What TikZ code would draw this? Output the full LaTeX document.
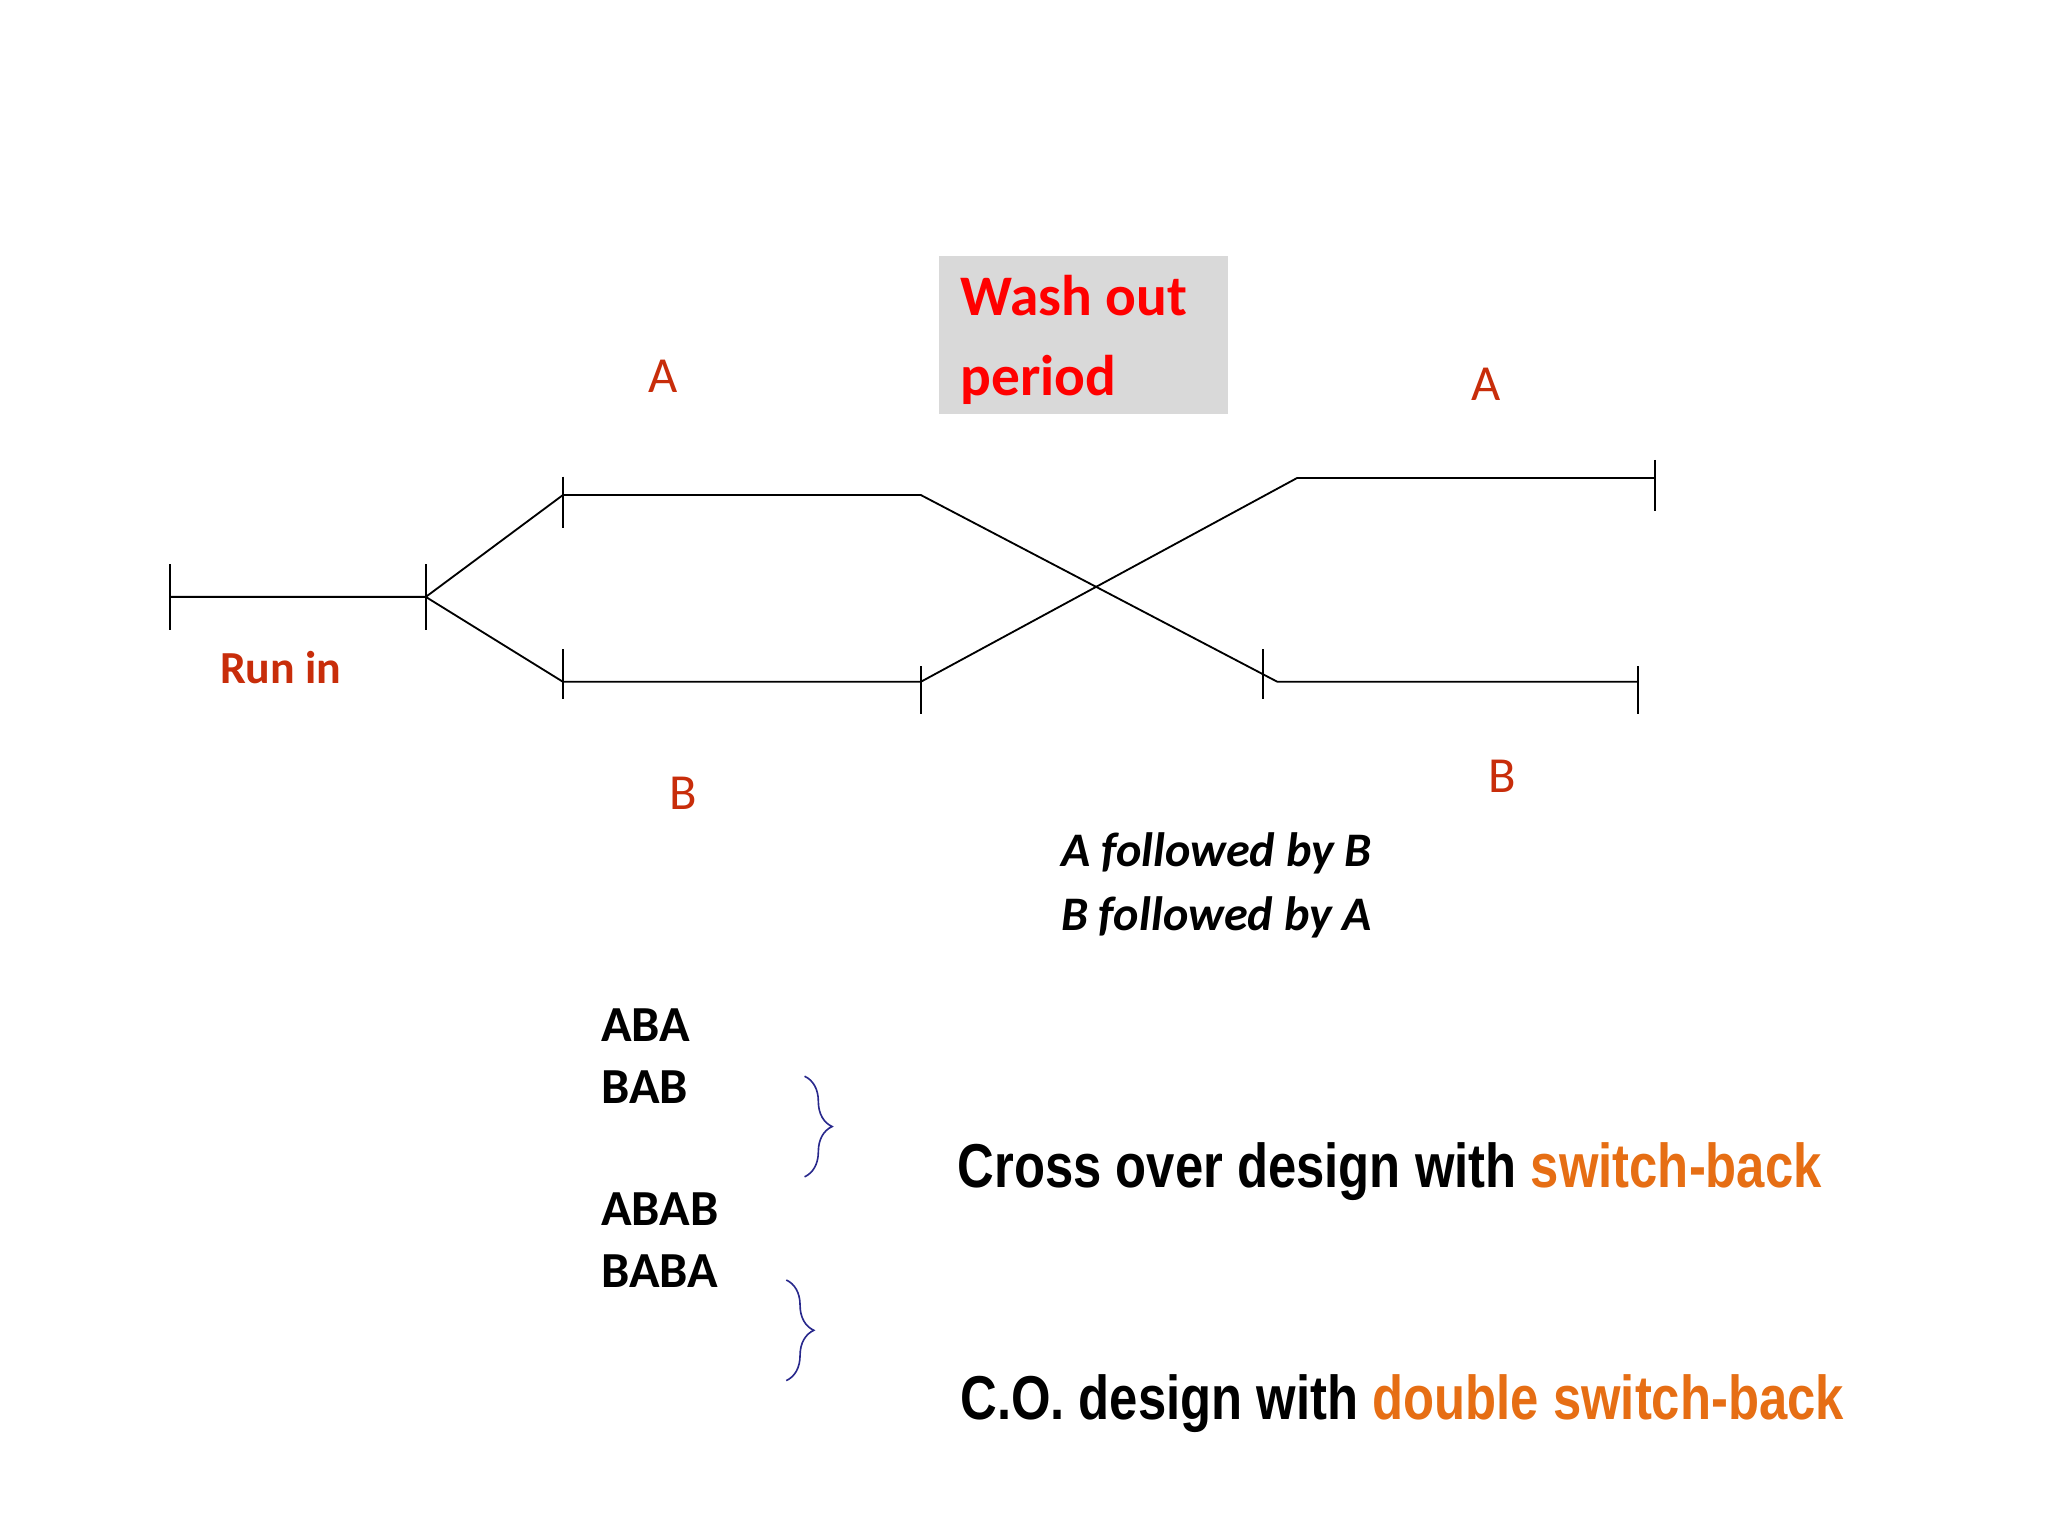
\documentclass[tikz,border=0pt]{standalone}
\usepackage{fontspec}
\setmainfont{Carlito}
\newfontfamily\narrowf{Liberation Sans}
\usetikzlibrary{decorations.pathreplacing}
\definecolor{lab}{RGB}{200,45,10}
\definecolor{org}{RGB}{230,110,20}
\definecolor{brc}{RGB}{40,40,140}
\begin{document}
\begin{tikzpicture}[x=0.02cm,y=-0.02cm,
  ln/.style={black,line width=0.8pt},
  lbl/.style={text=lab,font=\fontsize{22}{26}\selectfont,inner sep=0pt},
  seq/.style={font=\bfseries\fontsize{22}{26}\selectfont,anchor=west,inner sep=0pt},
  big/.style={font=\narrowf\bfseries\fontsize{27}{32}\selectfont,anchor=west,inner sep=0pt,xscale=0.82},
  br/.style={brc,line width=0.7pt,decorate,decoration={brace,amplitude=12pt}}]
\useasboundingbox (0,0) rectangle (1568,1176);
\fill[white] (0,0) rectangle (1568,1176);
% coordinates
\coordinate (r0) at (130,457); \coordinate (r1) at (326,457);
\coordinate (a0) at (431,379); \coordinate (a1) at (705,379);
\coordinate (b0) at (431,522); \coordinate (b1) at (705,522);
\coordinate (b2) at (978,522); \coordinate (b3) at (1254,522);
\coordinate (a2) at (993,366); \coordinate (a3) at (1267,366);
\draw[ln] (r0) -- (r1) -- (a0) -- (a1) -- (b2) -- (b3);
\draw[ln] (r1) -- (b0) -- (b1) -- (a2) -- (a3);
% ticks
\draw[ln] (130,432) -- (130,482);
\draw[ln] (326,432) -- (326,482);
\draw[ln] (431,365) -- (431,404);
\draw[ln] (431,497) -- (431,535);
\draw[ln] (705,510) -- (705,547);
\draw[ln] (967,497) -- (967,535);
\draw[ln] (1254,510) -- (1254,547);
\draw[ln] (1267,352) -- (1267,391);
% labels
\node[lbl] (la1) at (508,288) {A};
\node[lbl] (la2) at (1138,294) {A};
\node[lbl] (lb1) at (523,607) {B};
\node[lbl] (lb2) at (1150,594) {B};
\node[text=lab,font=\bfseries\fontsize{20}{24}\selectfont,inner sep=0pt] (run) at (215,511) {Run in};
\fill[black!15] (719,196) rectangle (940,317);
\node[anchor=north west,text=red,font=\bfseries\fontsize{25}{35}\selectfont,align=left,inner sep=0pt] (wash) at (735,210) {Wash out\\period};
\node[anchor=west,font=\bfseries\itshape\fontsize{21}{28}\selectfont,align=left,inner sep=0pt] (fol) at (812,678) {A followed by B\\B followed by A};
\node[seq] (s1) at (460,785) {ABA};
\node[seq] (s2) at (460,832) {BAB};
\node[seq] (s3) at (460,926) {ABAB};
\node[seq] (s4) at (460,973) {BABA};
\coordinate (c1) at (616,824); \coordinate (c2) at (616,901);
\coordinate (c3) at (602,980); \coordinate (c4) at (602,1057);
\draw[br] (c1) -- (c2);
\draw[br] (c3) -- (c4);
\node[big] (t1) at (733,897) {Cross over design with \textcolor{org}{switch-back}};
\node[big] (t2) at (735,1075) {C.O. design with \textcolor{org}{double switch-back}};
\end{tikzpicture}
\end{document}
